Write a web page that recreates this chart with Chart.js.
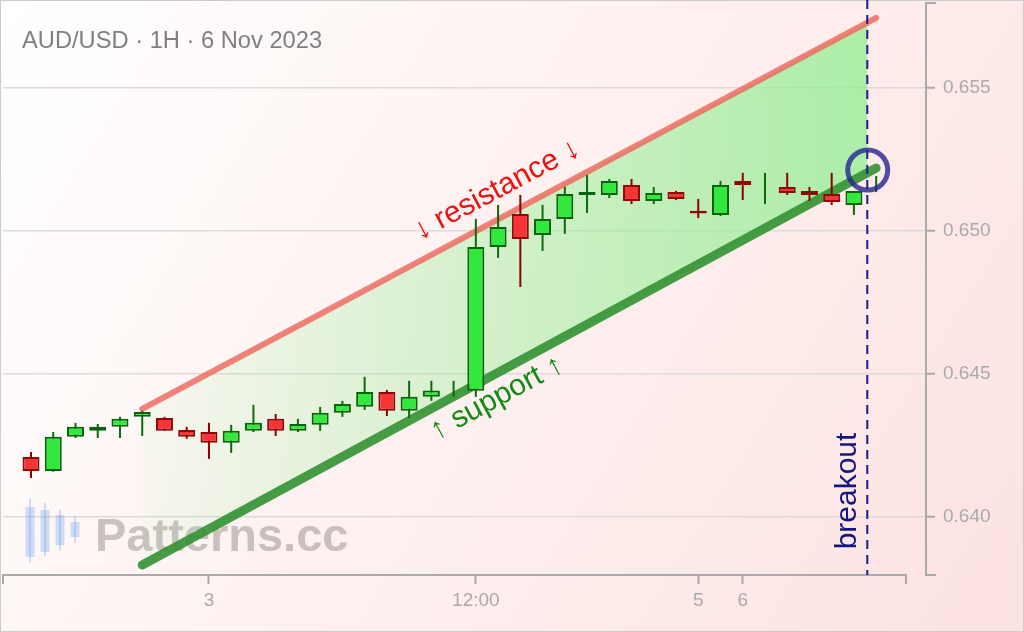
<!DOCTYPE html>
<html>
<head>
<meta charset="utf-8">
<script src="https://cdn.jsdelivr.net/npm/chart.js@4.4.0/dist/chart.umd.min.js"></script>
<style>
  html, body { margin: 0; padding: 0; background: #fff; }
  #wrap { width: 1024px; height: 632px; }
</style>
</head>
<body>
<div id="wrap"><canvas id="chart" width="1024" height="632"></canvas></div>
<script>
const title = "AUD/USD · 1H · 6 Nov 2023";
const hours = [0, 1, 2, 3, 4, 5, 6, 7, 8, 9, 10, 11, 12, 13, 14, 15, 16, 17, 18, 19,
  20, 21, 22, 23, 24, 25, 26, 27, 28, 29, 30, 31, 32, 33, 34, 35, 36, 37, 38];
const opens = [0.64210, 0.64161, 0.64280, 0.64301, 0.64315, 0.64350, 0.64346, 0.64304, 0.64297, 0.64259,
  0.64301, 0.64343, 0.64301, 0.64322, 0.64364, 0.64385, 0.64437, 0.64371, 0.64420, 0.64441,
  0.64441, 0.64944, 0.65059, 0.64986, 0.65042, 0.65126, 0.65126, 0.65161, 0.65105, 0.65136,
  0.65071, 0.65056, 0.65175, 0.65147, 0.65154, 0.65140, 0.65129, 0.65091, 0.65140];
const highs = [0.64227, 0.64297, 0.64329, 0.64325, 0.64350, 0.64371, 0.64350, 0.64315, 0.64329, 0.64322,
  0.64392, 0.64360, 0.64343, 0.64385, 0.64406, 0.64490, 0.64444, 0.64476, 0.64476, 0.64476,
  0.65042, 0.65091, 0.65126, 0.65091, 0.65154, 0.65196, 0.65182, 0.65182, 0.65154, 0.65140,
  0.65112, 0.65175, 0.65203, 0.65203, 0.65203, 0.65154, 0.65203, 0.65140, 0.65192];
const lows = [0.64136, 0.64158, 0.64276, 0.64276, 0.64276, 0.64283, 0.64301, 0.64273, 0.64203, 0.64224,
  0.64297, 0.64283, 0.64297, 0.64301, 0.64350, 0.64374, 0.64353, 0.64346, 0.64406, 0.64420,
  0.64420, 0.64906, 0.64804, 0.64930, 0.64990, 0.65063, 0.65115, 0.65094, 0.65094, 0.65108,
  0.65045, 0.65052, 0.65108, 0.65094, 0.65126, 0.65105, 0.65091, 0.65056, 0.65136];
const closes = [0.64161, 0.64280, 0.64315, 0.64315, 0.64343, 0.64367, 0.64301, 0.64280, 0.64259, 0.64301,
  0.64329, 0.64301, 0.64325, 0.64364, 0.64395, 0.64437, 0.64371, 0.64420, 0.64442, 0.64441,
  0.64944, 0.65014, 0.64972, 0.65042, 0.65129, 0.65136, 0.65175, 0.65105, 0.65133, 0.65112,
  0.65061, 0.65161, 0.65161, 0.65147, 0.65133, 0.65126, 0.65101, 0.65140, 0.65140];
const tickPos = [8, 20, 30, 32];
const tickText = ["3", "12:00", "5", "6"];
const priceTicks = [0.640, 0.645, 0.650, 0.655];
const resistance = [{x: 5, y: 0.64378}, {x: 38, y: 0.65745}];
const support = [{x: 5, y: 0.63832}, {x: 38, y: 0.65220}];
const breakoutAt = 37.6;
const breakoutPoint = {x: 37.62, y: 0.65213};
const resLabelAt = {x: 20.95, y: 0.65143};
const supLabelAt = {x: 20.95, y: 0.64416};

const xMin = -1.26, xMax = 40.24, xAxisEnd = 39.34;
const yMin = 0.63797, yMax = 0.65797;
const font = "'Liberation Sans', Arial, sans-serif";
Chart.defaults.font.family = font;

const up = hours.map((h, i) => closes[i] >= opens[i]);
const axisGray = "#aaaaaa";

function rotatedText(ctx, text, x, y, angle, color, size) {
  ctx.save();
  ctx.translate(x, y);
  ctx.rotate(angle);
  ctx.fillStyle = color;
  ctx.font = size + "px " + font;
  ctx.textAlign = "center";
  ctx.textBaseline = "middle";
  ctx.fillText(text, 0, 0);
  ctx.restore();
}

const decor = {
  id: "decor",
  beforeDraw(chart) {
    const ctx = chart.ctx;
    const g = ctx.createLinearGradient(0, 0, 1024, 632);
    g.addColorStop(0, "#ffffff");
    g.addColorStop(1, "#fce2e0");
    ctx.save();
    ctx.fillStyle = g;
    ctx.fillRect(0, 0, 1024, 632);
    ctx.strokeStyle = "#cccccc";
    ctx.lineWidth = 1;
    ctx.strokeRect(0.5, 0.5, 1023, 631);
    ctx.restore();
  },
  beforeDatasetsDraw(chart) {
    const ctx = chart.ctx;
    const xs = chart.scales.x, ys = chart.scales.y;
    // watermark
    ctx.save();
    ctx.fillStyle = "rgba(110,160,235,0.32)";
    ctx.strokeStyle = "rgba(110,160,235,0.32)";
    ctx.lineWidth = 2;
    [[30, 498, 507, 557, 562], [45, 503, 510, 552, 556], [60, 510, 515, 545, 550], [75, 516, 522, 537, 543]]
      .forEach(c => {
        ctx.beginPath();
        ctx.moveTo(c[0], c[1]);
        ctx.lineTo(c[0], c[4]);
        ctx.stroke();
        ctx.fillRect(c[0] - 4.5, c[2], 9, c[3] - c[2]);
      });
    ctx.fillStyle = "rgba(150,140,140,0.5)";
    ctx.font = "bold 47px " + font;
    ctx.textBaseline = "alphabetic";
    ctx.fillText("Patterns.cc", 95, 551);
    ctx.restore();

    // channel fill up to the breakout line
    const x1 = xs.getPixelForValue(resistance[0].x), x2 = xs.getPixelForValue(resistance[1].x);
    const bx = xs.getPixelForValue(breakoutAt);
    ctx.save();
    ctx.beginPath();
    ctx.rect(x1, 0, bx - x1, 632);
    ctx.clip();
    const g = ctx.createLinearGradient(x1, 0, bx, 0);
    g.addColorStop(0, "rgba(144,238,144,0.06)");
    g.addColorStop(1, "rgba(144,238,144,0.75)");
    ctx.fillStyle = g;
    ctx.beginPath();
    ctx.moveTo(x1, ys.getPixelForValue(resistance[0].y));
    ctx.lineTo(x2, ys.getPixelForValue(resistance[1].y));
    ctx.lineTo(xs.getPixelForValue(support[1].x), ys.getPixelForValue(support[1].y));
    ctx.lineTo(xs.getPixelForValue(support[0].x), ys.getPixelForValue(support[0].y));
    ctx.closePath();
    ctx.fill();
    ctx.restore();
  },
  afterDatasetsDraw(chart) {
    const ctx = chart.ctx;
    const xs = chart.scales.x, ys = chart.scales.y;
    const area = chart.chartArea;
    ctx.save();
    // axes
    ctx.strokeStyle = axisGray;
    ctx.lineWidth = 2;
    const xr = xs.getPixelForValue(xAxisEnd);
    ctx.beginPath();
    ctx.moveTo(area.left, area.bottom + 9);
    ctx.lineTo(area.left, area.bottom);
    ctx.lineTo(xr, area.bottom);
    ctx.lineTo(xr, area.bottom + 9);
    ctx.moveTo(area.right + 10, area.top);
    ctx.lineTo(area.right, area.top);
    ctx.lineTo(area.right, area.bottom);
    ctx.lineTo(area.right + 10, area.bottom);
    ctx.stroke();

    // breakout line
    const bx = xs.getPixelForValue(breakoutAt);
    ctx.strokeStyle = "#1c1c8e";
    ctx.lineWidth = 2;
    ctx.setLineDash([9, 6]);
    ctx.beginPath();
    ctx.moveTo(bx, 0);
    ctx.lineTo(bx, area.bottom);
    ctx.stroke();
    ctx.setLineDash([]);

    // circle at breakout point
    ctx.strokeStyle = "rgba(35,35,145,0.8)";
    ctx.lineWidth = 5;
    ctx.beginPath();
    ctx.arc(xs.getPixelForValue(breakoutPoint.x), ys.getPixelForValue(breakoutPoint.y), 20, 0, Math.PI * 2);
    ctx.stroke();
    ctx.restore();

    rotatedText(ctx, "breakout", bx - 20, 491, -Math.PI / 2, "#15157e", 30);

    const ra = Math.atan2(ys.getPixelForValue(resistance[1].y) - ys.getPixelForValue(resistance[0].y),
      xs.getPixelForValue(resistance[1].x) - xs.getPixelForValue(resistance[0].x));
    const sa = Math.atan2(ys.getPixelForValue(support[1].y) - ys.getPixelForValue(support[0].y),
      xs.getPixelForValue(support[1].x) - xs.getPixelForValue(support[0].x));
    rotatedText(ctx, "↓ resistance ↓", xs.getPixelForValue(resLabelAt.x), ys.getPixelForValue(resLabelAt.y), ra, "#ee1111", 30);
    rotatedText(ctx, "↑ support ↑", xs.getPixelForValue(supLabelAt.x), ys.getPixelForValue(supLabelAt.y), sa, "#138a13", 30);

    ctx.save();
    ctx.fillStyle = "#808080";
    ctx.font = "23.7px " + font;
    ctx.textBaseline = "middle";
    ctx.fillText(title, 22, 41);
    ctx.restore();
  }
};

const ctx = document.getElementById("chart");
const chart = new Chart(ctx, {
  type: "bar",
  data: {
    datasets: [
      {
        type: "bar",
        data: hours.map((h, i) => ({x: h, y: [opens[i], closes[i]]})),
        backgroundColor: up.map(u => u ? "#33e83d" : "#f53535"),
        borderColor: up.map(u => u ? "#0c620c" : "#8c0a0a"),
        borderWidth: 2,
        borderSkipped: false,
        inflateAmount: 0,
        barThickness: 17,
        grouped: false,
        order: 0
      },
      {
        type: "bar",
        data: hours.map((h, i) => ({x: h, y: [lows[i], highs[i]]})),
        backgroundColor: up.map(u => u ? "#0c6a0c" : "#8c0000"),
        borderWidth: 0,
        inflateAmount: 0,
        barThickness: 2,
        grouped: false,
        order: 1
      },
      {
        type: "line",
        data: resistance,
        borderColor: "rgba(238,100,90,0.8)",
        borderWidth: 6,
        borderCapStyle: "round",
        pointRadius: 0,
        fill: false,
        order: 2
      },
      {
        type: "line",
        data: support,
        borderColor: "rgba(50,145,50,0.9)",
        borderWidth: 9,
        borderCapStyle: "round",
        pointRadius: 0,
        fill: false,
        order: 3
      }
    ]
  },
  options: {
    responsive: false,
    devicePixelRatio: 1,
    animation: false,
    layout: {autoPadding: false, padding: {top: 3, left: 3, right: 0, bottom: 0}},
    plugins: {legend: {display: false}, tooltip: {enabled: false}},
    scales: {
      x: {
        type: "linear",
        min: xMin,
        max: xMax,
        offset: false,
        afterBuildTicks: s => { s.ticks = tickPos.map(v => ({value: v})); },
        afterFit: s => { s.height = 57; s.paddingLeft = 0; s.paddingRight = 0; },
        ticks: {
          autoSkip: false,
          maxRotation: 0,
          color: axisGray,
          font: {size: 19},
          padding: 5,
          callback: v => tickText[tickPos.indexOf(v)]
        },
        grid: {offset: false, drawOnChartArea: false, tickLength: 9, tickColor: axisGray, tickWidth: 2},
        border: {display: false}
      },
      y: {
        type: "linear",
        position: "right",
        min: yMin,
        max: yMax,
        afterBuildTicks: s => { s.ticks = priceTicks.map(v => ({value: v})); },
        afterFit: s => { s.width = 98; s.paddingTop = 0; s.paddingBottom = 0; },
        ticks: {
          color: axisGray,
          font: {size: 19},
          padding: 8,
          callback: v => v.toFixed(3)
        },
        grid: {color: "#dedada", lineWidth: 1.5, tickLength: 9, tickColor: axisGray, tickWidth: 2},
        border: {display: false}
      }
    }
  },
  plugins: [decor]
});
</script>
</body>
</html>
